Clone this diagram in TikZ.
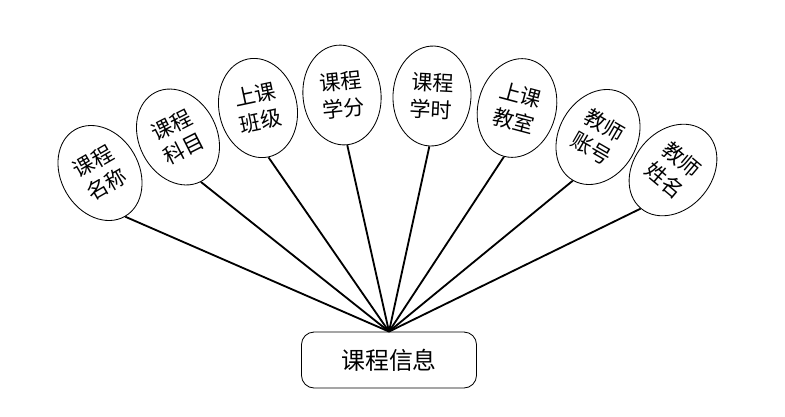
\documentclass[tikz,border=0pt]{standalone}
\usepackage{fontspec}
\setmainfont{Noto Sans CJK SC}
\usetikzlibrary{shapes.geometric}
\tikzset{
  fnode/.style={draw, ellipse, line width=0.6pt, fill=white, rotate=#1,
                font=\fontsize{15}{19}\selectfont, align=center, inner sep=0pt,
                minimum width=1.95cm, minimum height=2.5cm},
  ebox/.style={draw, rounded corners=9pt, line width=0.6pt, fill=white,
               font=\fontsize{17}{20}\selectfont,
               minimum width=4.375cm, minimum height=1.4cm},
  link/.style={line width=1.3pt},
}
\begin{document}
\begin{tikzpicture}[x=0.025cm, y=-0.025cm]
\useasboundingbox (0,0) rectangle (785,416);

% --- Entity ---
\node[ebox] (kcxx) at (389,360) {课程信息};
\coordinate (hub) at (kcxx.north);

% --- Attributes ---
\node[fnode=30]  (kcmc) at (100,173) {课程\\名称};
\node[fnode=27]  (kckm) at (178,137) {课程\\科目};
\node[fnode=12]  (skbj) at (258,108) {上课\\班级};
\node[fnode=6]   (kcxf) at (342,95)  {课程\\学分};
\node[fnode=-3]  (kcxs) at (432,96)  {课程\\学时};
\node[fnode=-15] (skjs) at (517,108) {上课\\教室};
\node[fnode=-30] (jszh) at (598,137) {教师\\账号};
\node[fnode=-40] (jsxm) at (673,170) {教师\\姓名};

% --- Links ---
\foreach \a in {kcmc,kckm,skbj,kcxf,kcxs,skjs,jszh,jsxm}
  \draw[link] (hub) -- (\a.south);

\end{tikzpicture}
\end{document}
